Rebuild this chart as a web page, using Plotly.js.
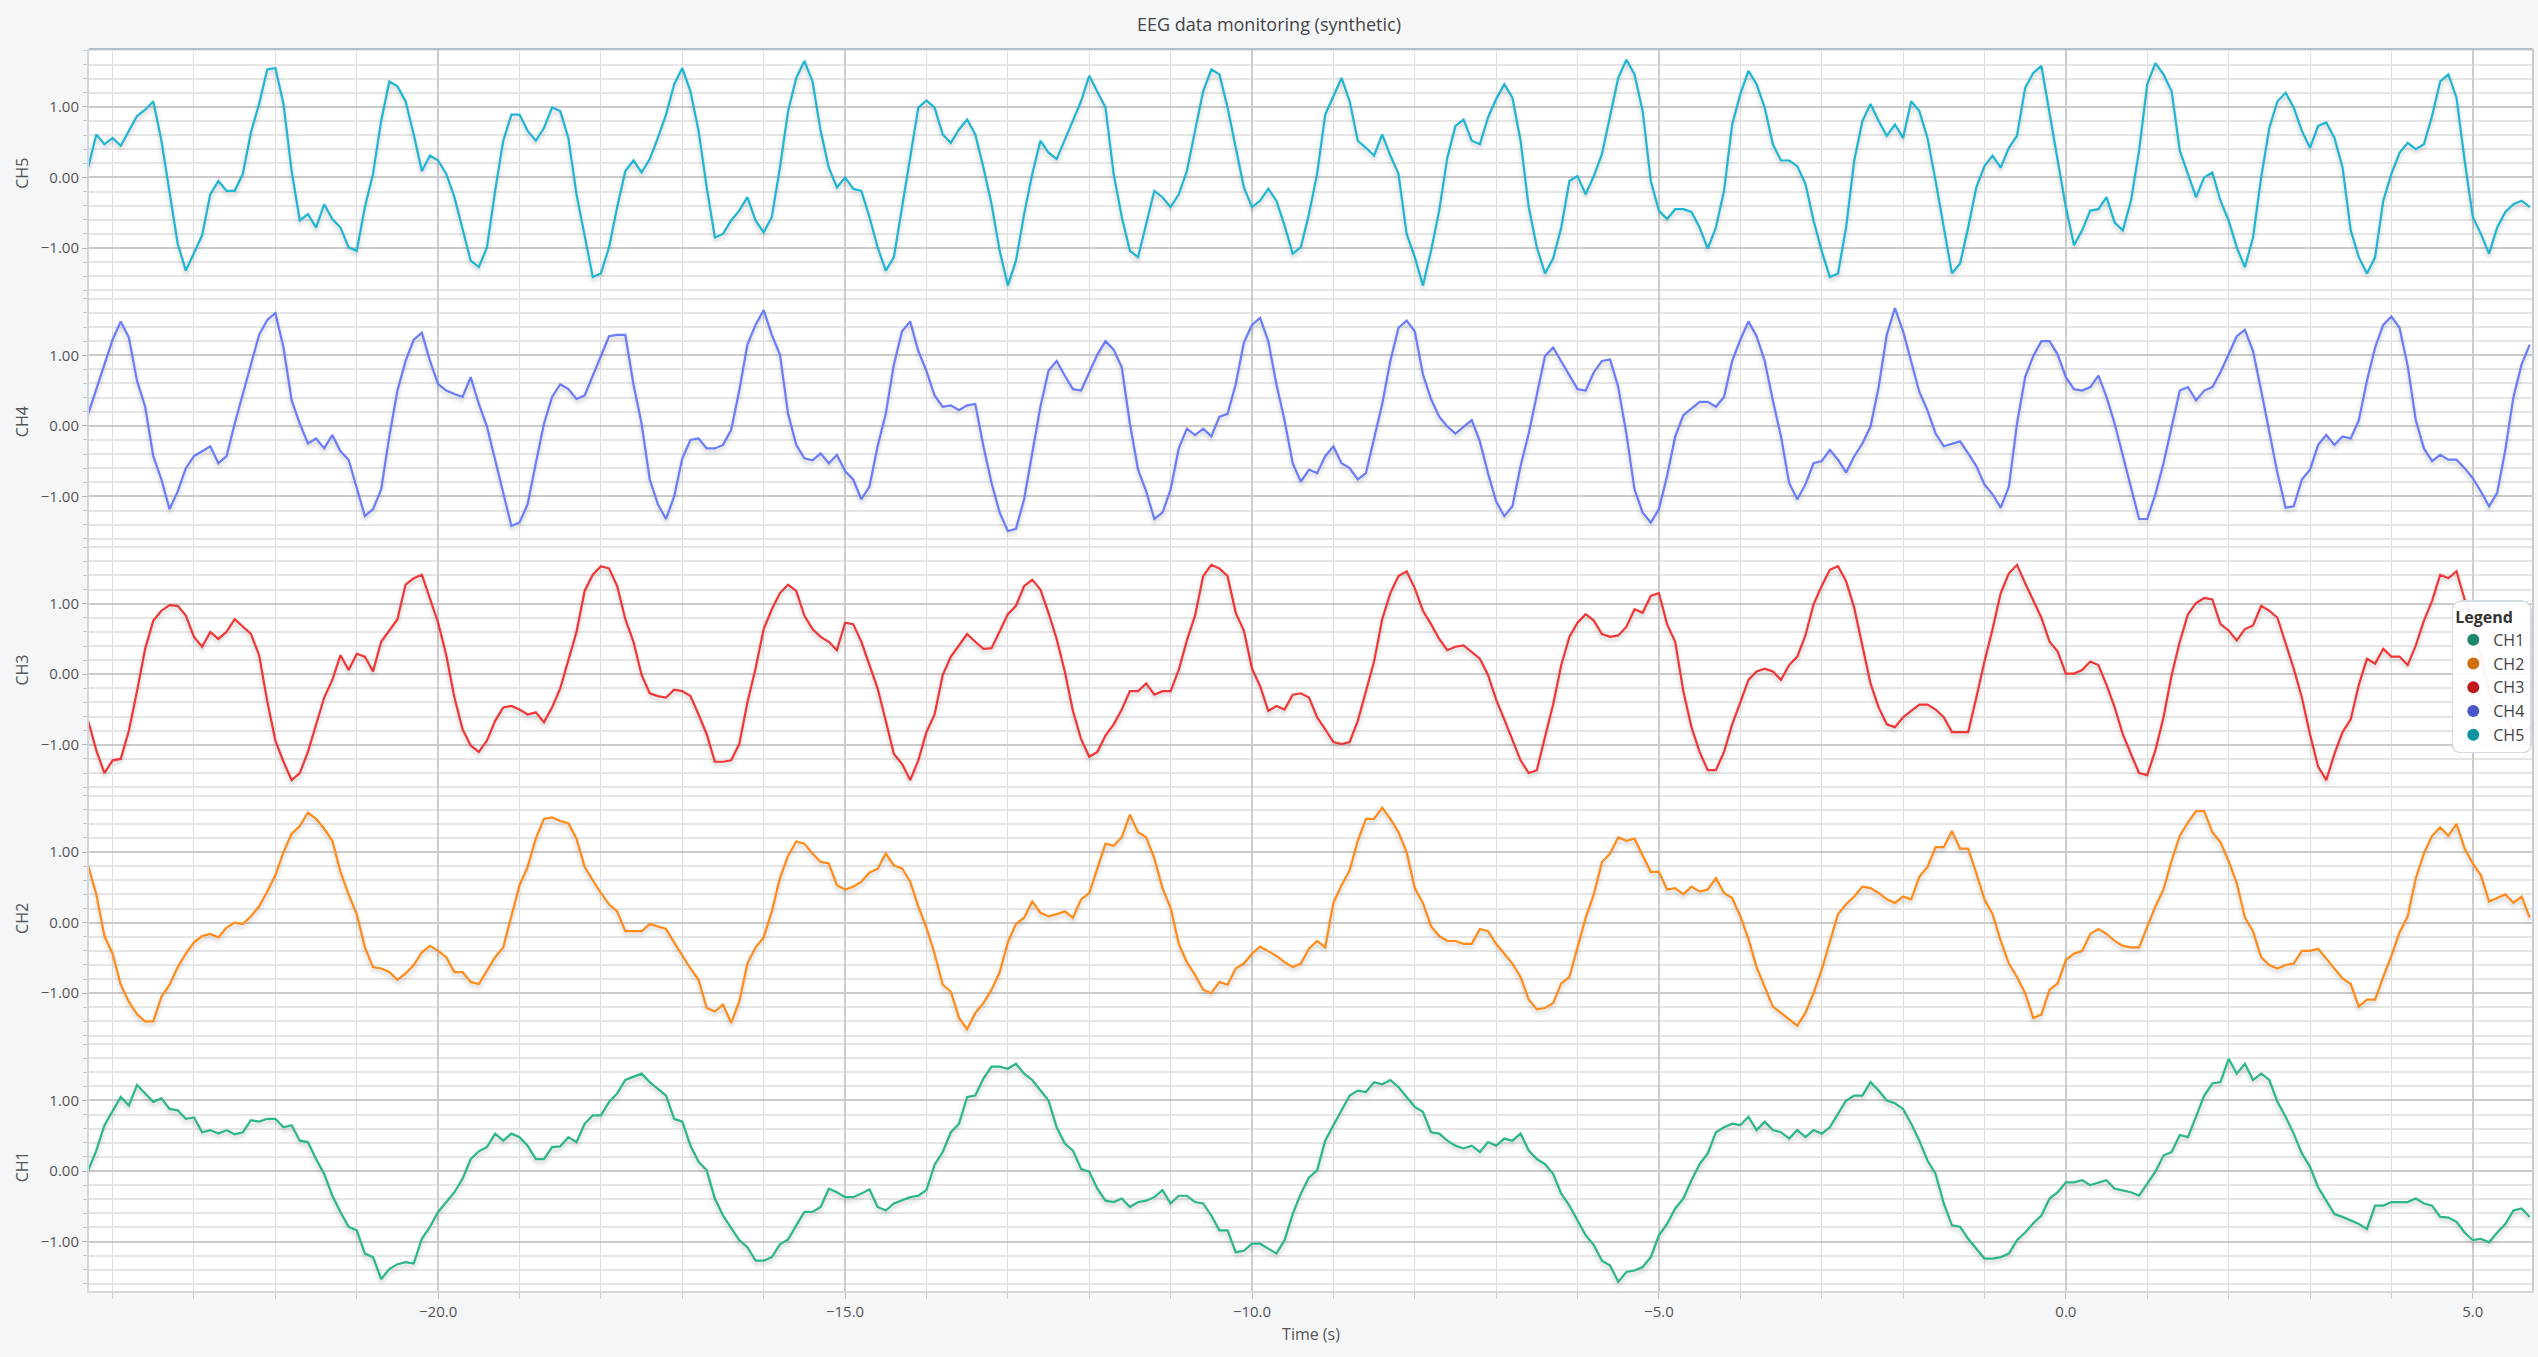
<!DOCTYPE html>
<html>
<head>
<meta charset="utf-8">
<title>EEG data monitoring (synthetic)</title>
<script src="https://cdn.plot.ly/plotly-3.0.1.min.js"></script>
<style>
  html, body { margin: 0; padding: 0; background: #f4f6f8; }
  #EEGPlot { width: 2538px; height: 1357px; }
  /* soft shadow under each trace, like the original */
  #EEGPlot .scatterlayer .js-line { filter: drop-shadow(0px 3px 2px rgba(0, 0, 0, 0.22)); }
  #EEGPlot .legend .bg { rx: 8px; ry: 8px; }
</style>
</head>
<body>
<div id="EEGPlot"></div>
<script>
// sample clock: first sample and spacing (seconds)
const startTime = -24.3;
const sampleStep = 0.1;

const channelNames = ['CH1', 'CH2', 'CH3', 'CH4', 'CH5'];
const lineColors = ['#2bb68c', '#ff8c1a', '#f03636', '#6a7cf7', '#1eb6d3'];
const legendColors = ['#1a8a6a', '#d0700c', '#c0181c', '#4a56c9', '#0e93a5'];

// values, one every 0.1 s
const ch5 = [
  0.14, 0.61, 0.47, 0.56, 0.45, 0.65, 0.87, 0.96, 1.08, 0.52,
  -0.24, -0.94, -1.32, -1.06, -0.82, -0.24, -0.05, -0.19, -0.19, 0.05,
  0.64, 1.04, 1.53, 1.55, 1.04, 0.09, -0.61, -0.52, -0.71, -0.38,
  -0.59, -0.71, -0.99, -1.04, -0.42, 0.05, 0.80, 1.36, 1.29, 1.08,
  0.61, 0.09, 0.31, 0.24, 0.05, -0.28, -0.71, -1.18, -1.27, -0.99,
  -0.19, 0.52, 0.89, 0.89, 0.66, 0.52, 0.70, 0.99, 0.94, 0.56,
  -0.24, -0.80, -1.41, -1.36, -0.99, -0.42, 0.09, 0.24, 0.07, 0.26,
  0.56, 0.89, 1.32, 1.55, 1.22, 0.66, -0.14, -0.85, -0.80, -0.61,
  -0.47, -0.28, -0.61, -0.78, -0.56, 0.14, 0.94, 1.41, 1.65, 1.36,
  0.66, 0.14, -0.14, 0.00, -0.16, -0.19, -0.56, -0.99, -1.32, -1.13,
  -0.42, 0.28, 0.99, 1.09, 0.99, 0.61, 0.49, 0.68, 0.82, 0.61,
  0.14, -0.38, -1.04, -1.53, -1.18, -0.52, 0.05, 0.52, 0.35, 0.26,
  0.54, 0.80, 1.08, 1.44, 1.22, 0.99, 0.05, -0.56, -1.04, -1.13,
  -0.66, -0.19, -0.28, -0.42, -0.24, 0.09, 0.66, 1.22, 1.53, 1.46,
  0.99, 0.42, -0.14, -0.42, -0.33, -0.16, -0.33, -0.68, -1.08, -0.99,
  -0.52, 0.05, 0.89, 1.15, 1.41, 1.08, 0.52, 0.42, 0.31, 0.61,
  0.31, 0.05, -0.80, -1.13, -1.53, -1.04, -0.47, 0.28, 0.73, 0.82,
  0.52, 0.47, 0.85, 1.11, 1.32, 1.13, 0.52, -0.42, -0.99, -1.36,
  -1.15, -0.71, -0.05, 0.02, -0.24, 0.02, 0.33, 0.87, 1.41, 1.67,
  1.46, 0.94, -0.05, -0.47, -0.59, -0.45, -0.45, -0.49, -0.71, -1.01,
  -0.71, -0.19, 0.75, 1.18, 1.51, 1.32, 0.99, 0.47, 0.24, 0.24,
  0.16, -0.09, -0.61, -1.04, -1.41, -1.36, -0.71, 0.24, 0.80, 1.04,
  0.80, 0.59, 0.75, 0.56, 1.08, 0.94, 0.56, -0.05, -0.71, -1.36,
  -1.22, -0.71, -0.14, 0.16, 0.31, 0.14, 0.42, 0.59, 1.27, 1.48,
  1.58, 0.89, 0.24, -0.42, -0.96, -0.75, -0.47, -0.45, -0.28, -0.64,
  -0.75, -0.33, 0.38, 1.32, 1.62, 1.46, 1.22, 0.38, 0.05, -0.28,
  0.00, 0.07, -0.33, -0.61, -0.99, -1.27, -0.85, 0.00, 0.70, 1.08,
  1.20, 0.99, 0.66, 0.42, 0.73, 0.78, 0.56, 0.14, -0.75, -1.13,
  -1.36, -1.13, -0.33, 0.05, 0.35, 0.49, 0.40, 0.47, 0.87, 1.36,
  1.46, 1.13, 0.24, -0.56, -0.80, -1.08, -0.71, -0.49, -0.38, -0.33,
  -0.42
];

const ch4 = [
  0.17, 0.52, 0.90, 1.22, 1.48, 1.25, 0.64, 0.27, -0.43, -0.76,
  -1.18, -0.93, -0.60, -0.43, -0.36, -0.29, -0.53, -0.43, 0.03, 0.45,
  0.83, 1.29, 1.50, 1.60, 1.11, 0.36, 0.03, -0.25, -0.18, -0.32,
  -0.13, -0.36, -0.48, -0.90, -1.28, -1.18, -0.90, -0.15, 0.50, 0.92,
  1.22, 1.32, 0.92, 0.59, 0.50, 0.45, 0.41, 0.69, 0.31, -0.01,
  -0.48, -0.95, -1.42, -1.37, -1.11, -0.53, 0.03, 0.41, 0.59, 0.52,
  0.38, 0.43, 0.71, 0.99, 1.27, 1.29, 1.29, 0.59, 0.03, -0.76,
  -1.11, -1.32, -1.00, -0.46, -0.20, -0.18, -0.32, -0.32, -0.27, -0.06,
  0.50, 1.15, 1.43, 1.64, 1.29, 1.01, 0.17, -0.27, -0.46, -0.49,
  -0.39, -0.53, -0.41, -0.64, -0.76, -1.04, -0.86, -0.29, 0.17, 0.87,
  1.34, 1.48, 1.06, 0.78, 0.43, 0.27, 0.29, 0.22, 0.29, 0.31,
  -0.29, -0.81, -1.23, -1.49, -1.46, -1.04, -0.39, 0.27, 0.78, 0.92,
  0.71, 0.52, 0.50, 0.76, 1.01, 1.20, 1.08, 0.83, 0.03, -0.62,
  -0.93, -1.32, -1.23, -0.90, -0.32, -0.04, -0.13, -0.04, -0.15, 0.13,
  0.17, 0.59, 1.18, 1.43, 1.53, 1.20, 0.59, 0.08, -0.53, -0.79,
  -0.62, -0.67, -0.43, -0.29, -0.53, -0.60, -0.76, -0.67, -0.20, 0.31,
  0.92, 1.39, 1.49, 1.34, 0.73, 0.38, 0.13, -0.01, -0.11, -0.01,
  0.08, -0.22, -0.67, -1.07, -1.28, -1.14, -0.57, -0.11, 0.45, 0.99,
  1.11, 0.92, 0.73, 0.52, 0.50, 0.76, 0.92, 0.94, 0.55, -0.11,
  -0.90, -1.23, -1.37, -1.18, -0.71, -0.15, 0.15, 0.24, 0.34, 0.34,
  0.27, 0.41, 0.92, 1.22, 1.48, 1.27, 0.92, 0.36, -0.15, -0.81,
  -1.04, -0.83, -0.53, -0.50, -0.34, -0.48, -0.66, -0.43, -0.25, -0.01,
  0.55, 1.29, 1.67, 1.34, 0.92, 0.48, 0.22, -0.11, -0.29, -0.25,
  -0.22, -0.39, -0.57, -0.83, -0.97, -1.16, -0.86, 0.03, 0.69, 0.99,
  1.20, 1.20, 1.01, 0.69, 0.52, 0.50, 0.55, 0.71, 0.41, 0.03,
  -0.43, -0.90, -1.32, -1.32, -0.97, -0.53, -0.01, 0.50, 0.55, 0.36,
  0.50, 0.55, 0.76, 1.01, 1.27, 1.36, 1.06, 0.50, -0.11, -0.67,
  -1.16, -1.14, -0.76, -0.62, -0.27, -0.13, -0.27, -0.15, -0.18, 0.08,
  0.64, 1.11, 1.43, 1.55, 1.39, 0.85, 0.08, -0.32, -0.50, -0.41,
  -0.48, -0.48, -0.60, -0.74, -0.93, -1.14, -0.95, -0.34, 0.41, 0.87,
  1.15
];

const ch3 = [
  -0.66, -1.08, -1.40, -1.22, -1.20, -0.80, -0.24, 0.36, 0.76, 0.90,
  0.98, 0.97, 0.83, 0.53, 0.39, 0.60, 0.50, 0.60, 0.78, 0.67,
  0.57, 0.27, -0.38, -0.94, -1.24, -1.50, -1.40, -1.10, -0.73, -0.33,
  -0.08, 0.27, 0.06, 0.29, 0.25, 0.04, 0.46, 0.62, 0.78, 1.27,
  1.36, 1.41, 1.08, 0.73, 0.27, -0.33, -0.78, -1.01, -1.10, -0.94,
  -0.66, -0.47, -0.45, -0.50, -0.57, -0.54, -0.68, -0.47, -0.20, 0.20,
  0.60, 1.18, 1.41, 1.53, 1.50, 1.25, 0.78, 0.46, -0.01, -0.27,
  -0.31, -0.33, -0.22, -0.24, -0.31, -0.57, -0.85, -1.24, -1.24, -1.22,
  -0.99, -0.40, 0.08, 0.64, 0.92, 1.15, 1.27, 1.18, 0.83, 0.64,
  0.53, 0.46, 0.34, 0.73, 0.71, 0.46, 0.13, -0.20, -0.66, -1.13,
  -1.27, -1.50, -1.22, -0.82, -0.57, -0.01, 0.25, 0.41, 0.57, 0.46,
  0.36, 0.37, 0.62, 0.85, 0.97, 1.25, 1.34, 1.20, 0.87, 0.50,
  0.04, -0.52, -0.92, -1.17, -1.10, -0.87, -0.71, -0.50, -0.24, -0.24,
  -0.13, -0.29, -0.24, -0.24, 0.06, 0.48, 0.83, 1.39, 1.55, 1.50,
  1.39, 0.87, 0.62, 0.08, -0.17, -0.52, -0.45, -0.50, -0.29, -0.27,
  -0.33, -0.61, -0.78, -0.96, -0.99, -0.96, -0.66, -0.24, 0.18, 0.78,
  1.15, 1.39, 1.46, 1.22, 0.90, 0.71, 0.50, 0.34, 0.39, 0.41,
  0.32, 0.22, -0.01, -0.36, -0.64, -0.94, -1.22, -1.40, -1.36, -0.89,
  -0.43, 0.13, 0.53, 0.73, 0.85, 0.76, 0.57, 0.53, 0.55, 0.67,
  0.92, 0.87, 1.11, 1.15, 0.71, 0.46, -0.24, -0.75, -1.10, -1.36,
  -1.36, -1.10, -0.71, -0.40, -0.08, 0.04, 0.08, 0.04, -0.08, 0.13,
  0.25, 0.55, 0.99, 1.25, 1.48, 1.53, 1.32, 0.94, 0.41, -0.13,
  -0.47, -0.71, -0.75, -0.61, -0.52, -0.43, -0.43, -0.50, -0.61, -0.82,
  -0.82, -0.82, -0.33, 0.18, 0.64, 1.15, 1.43, 1.55, 1.29, 1.04,
  0.80, 0.46, 0.32, 0.01, 0.01, 0.06, 0.18, 0.13, -0.15, -0.47,
  -0.85, -1.13, -1.40, -1.43, -1.08, -0.61, -0.01, 0.46, 0.85, 1.01,
  1.08, 1.06, 0.71, 0.62, 0.48, 0.64, 0.69, 0.97, 0.90, 0.80,
  0.43, 0.08, -0.33, -0.85, -1.31, -1.50, -1.13, -0.82, -0.64, -0.15,
  0.22, 0.15, 0.36, 0.25, 0.25, 0.13, 0.41, 0.76, 1.04, 1.41,
  1.36, 1.46, 1.06, 0.76, 0.25, -0.25, -0.45, -0.60, -0.80, -0.85,
  -0.75
];

const ch2 = [
  0.81, 0.40, -0.19, -0.44, -0.88, -1.12, -1.30, -1.40, -1.40, -1.05,
  -0.88, -0.63, -0.44, -0.28, -0.19, -0.16, -0.21, -0.07, 0.00, -0.02,
  0.09, 0.23, 0.44, 0.67, 1.00, 1.26, 1.37, 1.56, 1.47, 1.33,
  1.16, 0.72, 0.40, 0.12, -0.35, -0.63, -0.65, -0.70, -0.81, -0.72,
  -0.60, -0.42, -0.33, -0.40, -0.49, -0.70, -0.70, -0.84, -0.87, -0.67,
  -0.49, -0.35, 0.07, 0.53, 0.79, 1.19, 1.47, 1.49, 1.44, 1.41,
  1.19, 0.79, 0.60, 0.42, 0.26, 0.16, -0.12, -0.12, -0.12, -0.02,
  -0.05, -0.09, -0.28, -0.47, -0.65, -0.81, -1.21, -1.26, -1.16, -1.42,
  -1.12, -0.58, -0.35, -0.21, 0.16, 0.63, 0.95, 1.15, 1.12, 0.98,
  0.86, 0.84, 0.53, 0.47, 0.51, 0.58, 0.71, 0.76, 0.98, 0.81,
  0.77, 0.58, 0.23, -0.07, -0.44, -0.88, -0.98, -1.35, -1.51, -1.28,
  -1.14, -0.95, -0.70, -0.28, -0.02, 0.07, 0.30, 0.14, 0.09, 0.12,
  0.16, 0.07, 0.33, 0.42, 0.77, 1.12, 1.09, 1.21, 1.53, 1.28,
  1.21, 0.91, 0.49, 0.21, -0.30, -0.56, -0.74, -0.95, -1.00, -0.84,
  -0.88, -0.65, -0.58, -0.44, -0.34, -0.40, -0.47, -0.56, -0.63, -0.58,
  -0.37, -0.26, -0.35, 0.28, 0.53, 0.74, 1.16, 1.47, 1.47, 1.63,
  1.47, 1.28, 1.00, 0.49, 0.28, -0.05, -0.19, -0.26, -0.26, -0.30,
  -0.30, -0.09, -0.12, -0.30, -0.44, -0.58, -0.77, -1.09, -1.23, -1.21,
  -1.14, -0.86, -0.77, -0.33, 0.07, 0.40, 0.86, 0.98, 1.21, 1.16,
  1.19, 0.95, 0.72, 0.72, 0.47, 0.49, 0.40, 0.51, 0.44, 0.47,
  0.63, 0.42, 0.35, 0.09, -0.23, -0.63, -0.91, -1.19, -1.28, -1.37,
  -1.46, -1.28, -1.00, -0.67, -0.26, 0.12, 0.26, 0.37, 0.51, 0.49,
  0.42, 0.33, 0.28, 0.37, 0.33, 0.65, 0.79, 1.07, 1.07, 1.30,
  1.05, 1.05, 0.70, 0.33, 0.12, -0.26, -0.58, -0.77, -1.00, -1.35,
  -1.30, -0.95, -0.86, -0.53, -0.44, -0.40, -0.16, -0.09, -0.16, -0.26,
  -0.33, -0.35, -0.35, -0.07, 0.23, 0.47, 0.88, 1.23, 1.42, 1.58,
  1.58, 1.28, 1.14, 0.87, 0.56, 0.07, -0.12, -0.49, -0.60, -0.65,
  -0.60, -0.58, -0.40, -0.40, -0.37, -0.51, -0.65, -0.79, -0.87, -1.19,
  -1.09, -1.09, -0.77, -0.47, -0.14, 0.09, 0.63, 0.98, 1.23, 1.35,
  1.23, 1.40, 1.05, 0.84, 0.67, 0.30, 0.35, 0.40, 0.28, 0.37,
  0.07
];

const ch1 = [
  0.01, 0.29, 0.65, 0.86, 1.05, 0.93, 1.22, 1.10, 0.98, 1.03,
  0.88, 0.86, 0.74, 0.76, 0.55, 0.58, 0.53, 0.58, 0.52, 0.55,
  0.72, 0.70, 0.74, 0.74, 0.62, 0.65, 0.43, 0.41, 0.17, -0.04,
  -0.35, -0.58, -0.79, -0.84, -1.17, -1.22, -1.53, -1.39, -1.32, -1.29,
  -1.31, -0.96, -0.79, -0.58, -0.44, -0.30, -0.11, 0.17, 0.28, 0.34,
  0.53, 0.43, 0.53, 0.48, 0.36, 0.17, 0.17, 0.34, 0.35, 0.48,
  0.41, 0.67, 0.79, 0.79, 0.98, 1.10, 1.29, 1.33, 1.38, 1.26,
  1.17, 1.07, 0.74, 0.70, 0.36, 0.13, 0.01, -0.39, -0.63, -0.80,
  -0.98, -1.08, -1.27, -1.27, -1.22, -1.04, -0.97, -0.77, -0.58, -0.58,
  -0.51, -0.25, -0.30, -0.37, -0.37, -0.32, -0.26, -0.51, -0.56, -0.46,
  -0.42, -0.37, -0.35, -0.27, 0.09, 0.27, 0.55, 0.67, 1.05, 1.07,
  1.31, 1.48, 1.48, 1.45, 1.52, 1.38, 1.29, 1.14, 1.00, 0.62,
  0.39, 0.29, 0.03, -0.01, -0.25, -0.42, -0.44, -0.39, -0.51, -0.44,
  -0.42, -0.37, -0.27, -0.46, -0.35, -0.35, -0.44, -0.46, -0.63, -0.84,
  -0.84, -1.15, -1.13, -1.03, -1.03, -1.10, -1.17, -0.98, -0.61, -0.32,
  -0.09, 0.01, 0.43, 0.65, 0.86, 1.07, 1.14, 1.12, 1.26, 1.23,
  1.29, 1.19, 1.05, 0.91, 0.84, 0.55, 0.53, 0.43, 0.36, 0.32,
  0.36, 0.27, 0.41, 0.36, 0.46, 0.43, 0.53, 0.29, 0.17, 0.10,
  -0.04, -0.32, -0.49, -0.70, -0.91, -1.05, -1.27, -1.34, -1.57, -1.43,
  -1.41, -1.36, -1.22, -0.91, -0.75, -0.53, -0.39, -0.13, 0.10, 0.25,
  0.55, 0.62, 0.67, 0.65, 0.77, 0.58, 0.70, 0.58, 0.55, 0.46,
  0.58, 0.48, 0.58, 0.53, 0.62, 0.81, 1.00, 1.07, 1.07, 1.26,
  1.14, 1.00, 0.96, 0.88, 0.67, 0.43, 0.15, -0.04, -0.46, -0.77,
  -0.79, -0.96, -1.10, -1.24, -1.24, -1.22, -1.17, -0.98, -0.87, -0.74,
  -0.63, -0.39, -0.30, -0.16, -0.16, -0.13, -0.20, -0.16, -0.13, -0.25,
  -0.27, -0.30, -0.35, -0.18, -0.01, 0.22, 0.27, 0.51, 0.48, 0.77,
  1.07, 1.24, 1.26, 1.59, 1.38, 1.52, 1.29, 1.38, 1.29, 0.98,
  0.77, 0.53, 0.25, 0.06, -0.23, -0.42, -0.61, -0.65, -0.70, -0.75,
  -0.82, -0.49, -0.49, -0.44, -0.44, -0.44, -0.39, -0.46, -0.49, -0.65,
  -0.66, -0.72, -0.87, -0.98, -0.96, -1.01, -0.87, -0.75, -0.56, -0.53,
  -0.65
];

const channelData = [ch1, ch2, ch3, ch4, ch5];

const font = 'Open Sans, Noto Sans, sans-serif';
const labelColor = '#555';

var data = [];

// the five channel lines, CH1 at the bottom
channelData.forEach((values, i) => {
  data.push({
    type: 'scatter',
    mode: 'lines',
    name: channelNames[i],
    x0: startTime,
    dx: sampleStep,
    y: values,
    xaxis: 'x',
    yaxis: i === 0 ? 'y' : 'y' + (i + 1),
    line: { color: lineColors[i], width: 2.2 },
    showlegend: false,
    hoverinfo: 'skip'
  });
});

// legend entries only (round markers in darker tones)
channelNames.forEach((name, i) => {
  data.push({
    type: 'scatter',
    mode: 'markers',
    name: name,
    x: [null],
    y: [null],
    xaxis: 'x',
    yaxis: 'y',
    marker: { color: legendColors[i], size: 12, symbol: 'circle' },
    showlegend: true,
    hoverinfo: 'skip'
  });
});

function channelAxis(i) {
  return {
    domain: [i * 0.2, (i + 1) * 0.2],
    range: [-1.70, 1.82],
    tick0: 0,
    dtick: 1,
    tickformat: '.2f',
    ticks: 'outside',
    ticklen: 5,
    tickcolor: '#b9b9b9',
    tickfont: { family: font, size: 15, color: labelColor },
    showgrid: true,
    gridcolor: '#cbcbcb',
    gridwidth: 2,
    minor: {
      dtick: 0.2,
      showgrid: true,
      gridcolor: '#e5e5e5',
      gridwidth: 2,
      ticks: 'outside',
      ticklen: 4,
      tickcolor: '#c4c4c4'
    },
    zeroline: false,
    showline: true,
    linecolor: '#d0d6dc',
    linewidth: 2,
    anchor: 'x',
    fixedrange: true,
    title: { text: channelNames[i], font: { family: font, size: 16, color: labelColor }, standoff: 8 }
  };
}

var layout = {
  width: 2538,
  height: 1357,
  margin: { l: 89, r: 5, t: 49, b: 66 },
  paper_bgcolor: '#f4f6f8',
  plot_bgcolor: '#ffffff',
  font: { family: font, color: labelColor },
  title: {
    text: 'EEG data monitoring (synthetic)',
    x: 0.5,
    xref: 'container',
    y: 0.982,
    yref: 'container',
    yanchor: 'middle',
    font: { family: font, size: 18, color: '#444' }
  },
  xaxis: {
    range: [-24.29, 5.74],
    tick0: 0,
    dtick: 5,
    tickformat: '.1f',
    ticks: 'outside',
    ticklen: 6,
    tickcolor: '#c4c4c4',
    tickfont: { family: font, size: 15, color: labelColor },
    showgrid: true,
    gridcolor: '#cccccc',
    gridwidth: 2,
    minor: {
      dtick: 1,
      showgrid: true,
      gridcolor: '#dedede',
      gridwidth: 1,
      ticks: 'outside',
      ticklen: 6,
      tickcolor: '#cdcdcd'
    },
    zeroline: false,
    showline: true,
    linecolor: '#d6d9dc',
    linewidth: 2,
    anchor: 'y',
    fixedrange: true,
    title: { text: 'Time (s)', font: { family: font, size: 16, color: labelColor }, standoff: 9 }
  },
  yaxis: channelAxis(0),
  yaxis2: channelAxis(1),
  yaxis3: channelAxis(2),
  yaxis4: channelAxis(3),
  yaxis5: channelAxis(4),
  legend: {
    x: 0.9995,
    xanchor: 'right',
    y: 0.556,
    yanchor: 'top',
    bgcolor: 'rgba(255,255,255,0.93)',
    bordercolor: '#d3dae1',
    borderwidth: 1.5,
    font: { family: font, size: 16, color: '#444' },
    title: { text: '<b>Legend</b>', font: { family: font, size: 16, color: '#333' } },
    traceorder: 'normal',
    itemwidth: 30
  },
  shapes: [
    { type: 'line', xref: 'paper', yref: 'paper', x0: 0, x1: 1, y0: 1, y1: 1,
      line: { color: '#b3bec9', width: 2 } },
    { type: 'line', xref: 'paper', yref: 'paper', x0: 1, x1: 1, y0: 0, y1: 1,
      line: { color: '#c3ccd5', width: 2 } }
  ]
};

window.addEventListener('load', (event) => {
  Plotly.newPlot('EEGPlot', data, layout, { displayModeBar: false, staticPlot: true });
});
</script>
</body>
</html>
